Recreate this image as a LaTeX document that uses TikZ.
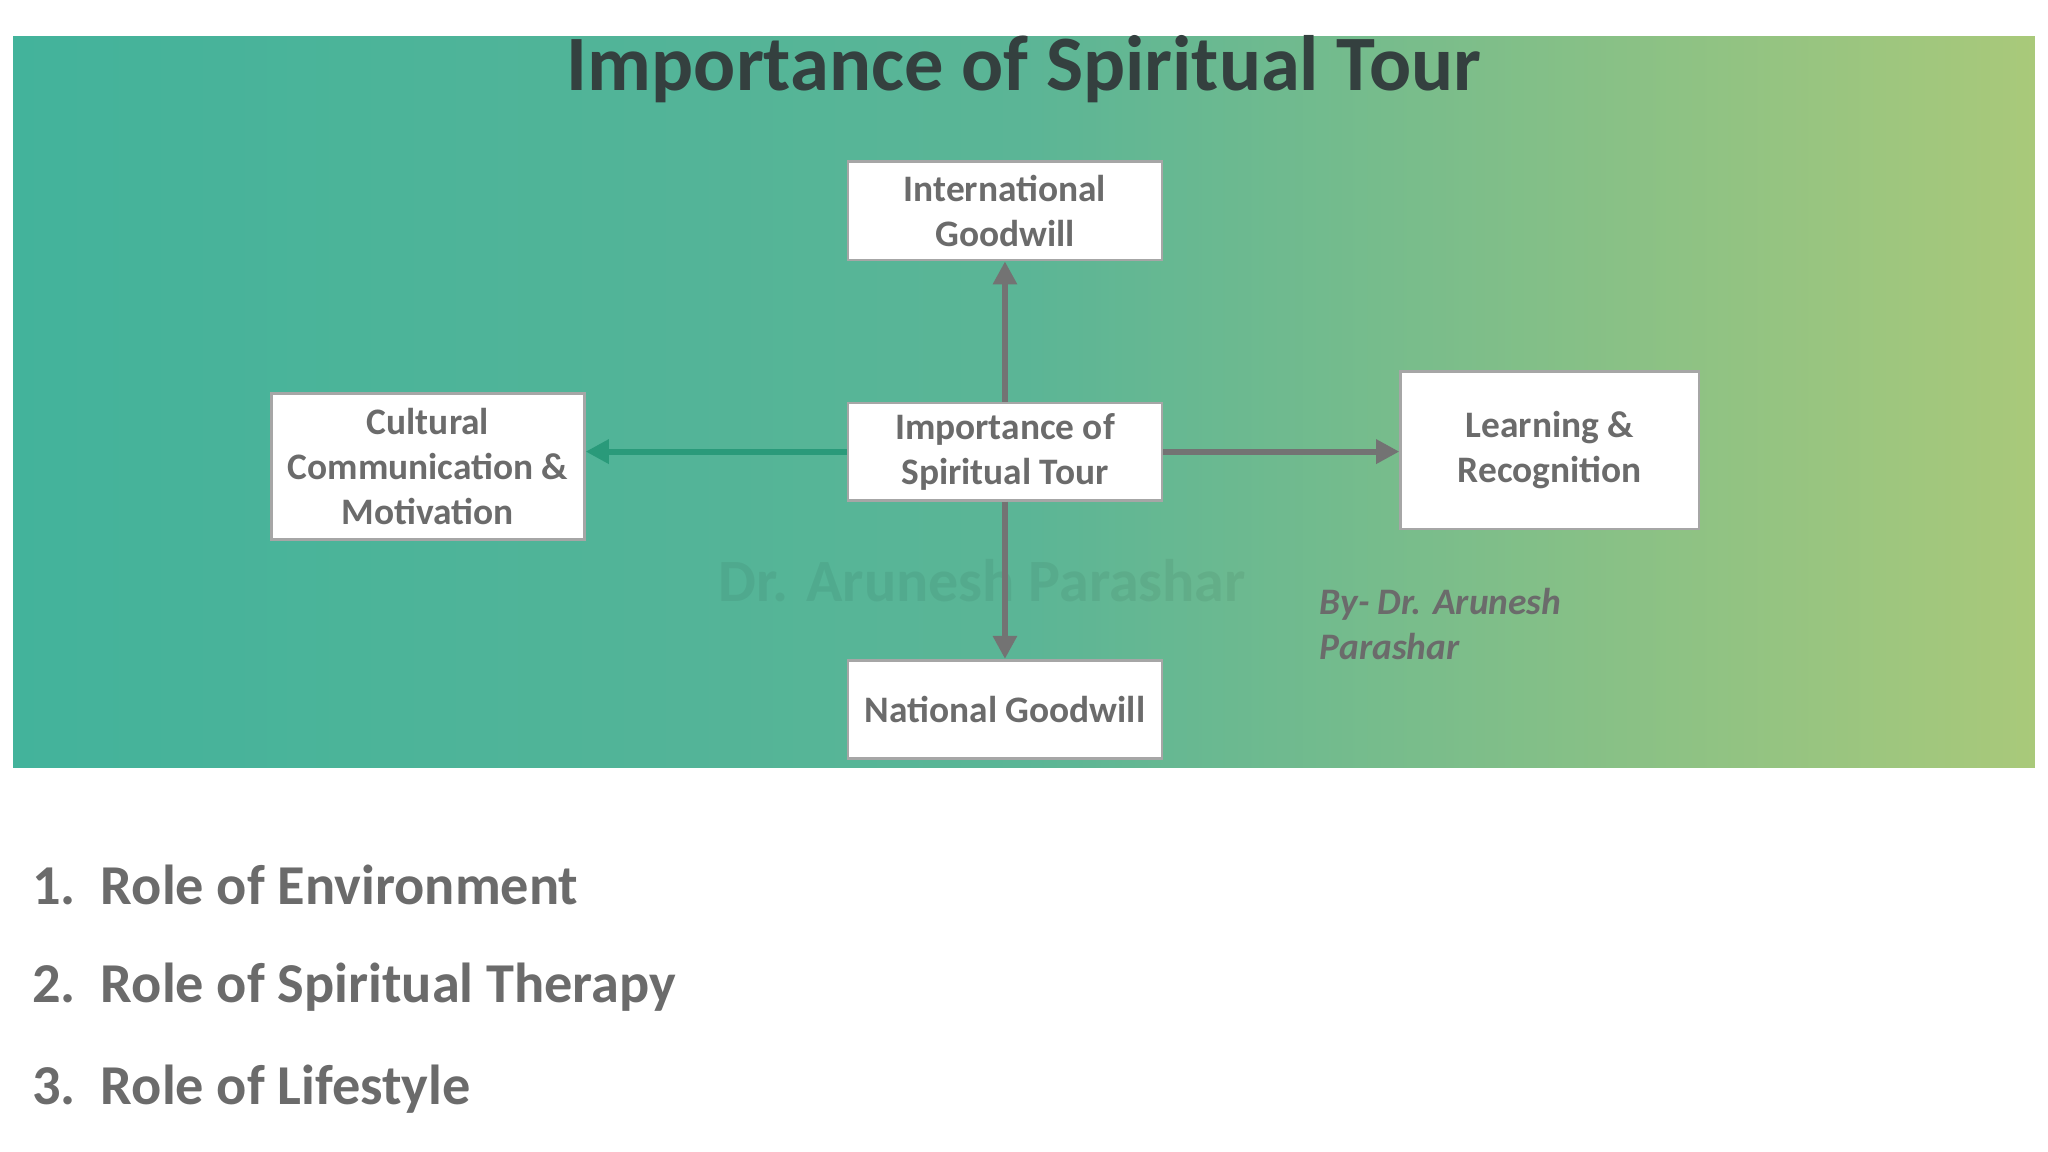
\documentclass[tikz,border=0pt]{standalone}
\usepackage{fontspec}
\setmainfont{Carlito}
\usetikzlibrary{arrows.meta}
\definecolor{txt}{HTML}{6B6B6B}
\definecolor{ttl}{HTML}{34403F}
\definecolor{tealL}{HTML}{43B39B}
\definecolor{tealM}{HTML}{5BB596}
\definecolor{greenR}{HTML}{A9C97A}
\definecolor{arrT}{HTML}{2A9A7A}
\begin{document}
\begin{tikzpicture}[x=0.01cm,y=-0.01cm,
  box/.style={draw=black!35,fill=white,line width=0.6pt,inner sep=0pt,align=center,font=\fontsize{8.1}{9.7}\selectfont\bfseries,text=txt},
  conn/.style={line width=1.3pt,draw=black!55,-{Triangle[length=5pt,width=5pt]}}]
\useasboundingbox (0,0) rectangle (1560,877);
\fill[white] (0,0) rectangle (1560,877);
\shade[shading=axis,shading angle=60,left color=tealL,right color=greenR,middle color=tealM] (10,28) rectangle (1550,585);
\node[font=\fontsize{17}{20}\selectfont\bfseries,text=ttl] (title) at (780,53) {Importance of Spiritual Tour};
\node[font=\fontsize{13}{15}\selectfont\bfseries,text=black,opacity=0.06,anchor=west] (wm) at (535,442) {Dr. Arunesh Parashar};
\node[box,minimum width=2.39cm,minimum height=0.75cm] (intl) at (765.5,160.5) {International\\Goodwill};
\node[box,minimum width=2.39cm,minimum height=0.74cm] (cen) at (765.5,344) {Importance of\\Spiritual Tour};
\node[box,minimum width=2.38cm,minimum height=1.11cm] (cul) at (326,355.5) {Cultural\\Communication \&\\Motivation};
\node[box,minimum width=2.27cm,minimum height=1.2cm] (learn) at (1180.5,343) {Learning \&\\Recognition};
\node[box,minimum width=2.39cm,minimum height=0.75cm] (nat) at (765.5,540.5) {National Goodwill};
\draw[conn] (cen.north) -- (intl.south);
\draw[conn] (cen.south) -- (nat.north);
\draw[conn] (cen.east) -- (learn.west|-cen.east);
\draw[conn,draw=arrT] (cen.west) -- (cul.east|-cen.west);
\node[anchor=north west,align=left,font=\fontsize{8.1}{9.7}\selectfont\bfseries\itshape,text=txt] (by) at (993,436) {By- Dr. Arunesh\\Parashar};
\foreach \t/\y [count=\i] in {Role of Environment/674,Role of Spiritual Therapy/752,Role of Lifestyle/830}
  \node[anchor=west,font=\fontsize{12.2}{14}\selectfont\bfseries,text=txt] (l\i) at (12,\y) {\i.\hspace{0.45em}\t};
\end{tikzpicture}
\end{document}
